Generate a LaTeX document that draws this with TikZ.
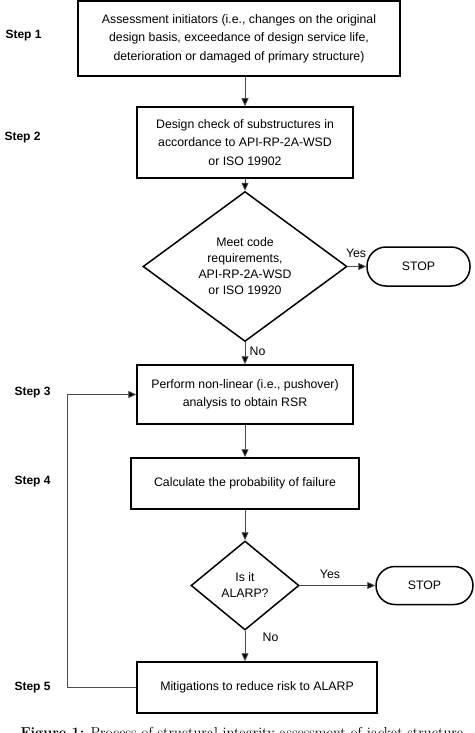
\documentclass[tikz,border=0pt]{standalone}
\usepackage{fontspec}
\newfontfamily\chartfont{Liberation Sans}
\usetikzlibrary{shapes.geometric,arrows.meta}

\tikzset{
    every node/.style={font=\chartfont\fontsize{12.3}{18.5}\selectfont},
    procbox/.style={draw, line width=1.5pt, inner sep=0pt, align=center},
    decision/.style={draw, diamond, line width=1.5pt, inner sep=0pt, align=center,
        font=\chartfont\fontsize{12.3}{16}\selectfont},
    terminal/.style={draw, rounded corners=19pt, line width=1.5pt, inner sep=0pt},
    steplabel/.style={anchor=west, font=\chartfont\bfseries\fontsize{12}{14}\selectfont},
    flow/.style={draw=black!70, line width=0.8pt, -{Triangle[length=8pt,width=7pt,fill=black]}},
}

\begin{document}
\begin{tikzpicture}[x=1pt, y=-1pt]
            \useasboundingbox (0,0) rectangle (474,733);
            % process boxes
            \node[procbox, minimum width=322pt, minimum height=75pt] (initiators) at (239,38.5)
                {Assessment initiators (i.e., changes on the original\\
                 design basis, exceedance of design service life,\\
                 deterioration or damaged of primary structure)};
            \node[procbox, minimum width=216pt, minimum height=71pt] (check) at (245,142.5)
                {Design check of substructures in\\accordance to API-RP-2A-WSD\\or ISO 19902};
            \node[decision, minimum width=204pt, minimum height=127pt] (meetcode) at (245,266.5)
                {Meet code\\requirements,\\API-RP-2A-WSD\\or ISO 19920};
            \node[terminal, minimum width=103pt, minimum height=39pt] (stopA) at (418.5,266.5) {STOP};
            \node[procbox, minimum width=216pt, minimum height=59pt] (pushover) at (245,394.5)
                {Perform non-linear (i.e., pushover)\\analysis to obtain RSR};
            \node[procbox, minimum width=228pt, minimum height=51pt] (failure) at (245,483.5)
                {Calculate the probability of failure};
            \node[decision, minimum width=108pt, minimum height=89pt] (alarp) at (245,585.5)
                {Is it\\ALARP?};
            \node[terminal, minimum width=97pt, minimum height=38pt] (stopB) at (424.5,585.5) {STOP};
            \node[procbox, minimum width=240pt, minimum height=51pt] (mitigate) at (257,687.5)
                {Mitigations to reduce risk to ALARP};

            % step labels
            \node[steplabel] (s1) at (2,36) {Step 1};
            \node[steplabel] (s2) at (1,138) {Step 2};
            \node[steplabel] (s3) at (11,393) {Step 3};
            \node[steplabel] (s4) at (11,482) {Step 4};
            \node[steplabel] (s5) at (11,688) {Step 5};

            % connectors
            \draw[flow] (check.north |- initiators.south) -- (check.north);
            \draw[flow] (check) -- (meetcode);
            \draw[flow] (meetcode.east) -- (stopA.west) node[pos=0.45, above=5pt] (yesA) {Yes};
            \draw[flow] (meetcode.south) -- (pushover.north) node[pos=0.4, right=1pt] (noA) {No};
            \draw[flow] (pushover) -- (failure);
            \draw[flow] (failure) -- (alarp);
            \draw[flow] (alarp.east) -- (stopB.west) node[pos=0.4, above=3pt] (yesB) {Yes};
            \draw[flow] (alarp.south) -- (alarp.south |- mitigate.north) node[pos=0.2, right=14pt] (noB) {No};
            \coordinate (loop) at (67,0);
            \draw[flow] (mitigate.west) -- (mitigate.west -| loop) |- (pushover.west);

            % caption, cut by the page edge
            \node[anchor=base west, font=\fontsize{14.4}{16}\selectfont] (caption) at (17,737)
                {\textbf{Figure 1:} Process of structural integrity assessment of jacket structure};
            \end{tikzpicture}
\end{document}
